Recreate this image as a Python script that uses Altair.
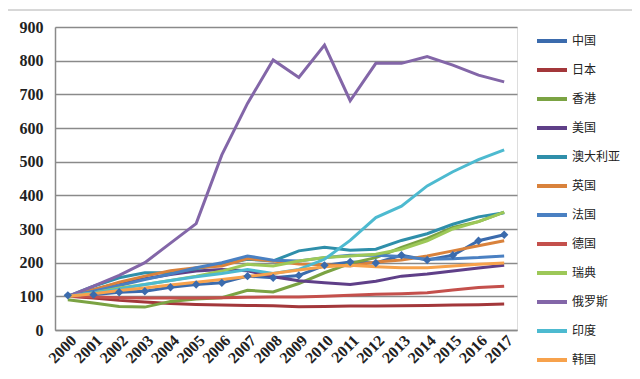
import altair as alt
import pandas as pd

years = [str(y) for y in range(2000, 2018)]

countries = ["中国", "日本", "香港", "美国", "澳大利亚", "英国",
             "法国", "德国", "瑞典", "俄罗斯", "印度", "韩国"]
colors = ["#3B6BAD", "#A3373A", "#7BA343", "#5F3F88", "#2F8FAA", "#D9823C",
          "#4A80C2", "#C4504C", "#9DC858", "#8366A8", "#4DBAD0", "#F7A24C"]

china = [103, 105, 112, 115, 127, 135, 140, 160, 155, 162, 192, 202, 199, 222, 208, 222, 265, 283]
japan = [100, 95, 88, 83, 79, 76, 74, 73, 72, 69, 70, 71, 71, 72, 73, 74, 75, 77]
hongkong = [90, 80, 70, 68, 85, 92, 96, 118, 113, 138, 170, 198, 215, 245, 272, 305, 322, 350]
usa = [100, 120, 140, 152, 165, 175, 180, 176, 158, 146, 140, 135, 145, 160, 166, 175, 184, 192]
australia = [100, 130, 155, 170, 170, 182, 195, 210, 205, 235, 246, 237, 240, 266, 286, 314, 336, 348]
uk = [100, 120, 142, 160, 176, 185, 190, 212, 205, 196, 194, 190, 202, 208, 220, 235, 250, 265]
france = [100, 115, 132, 150, 166, 185, 200, 220, 207, 205, 215, 222, 222, 218, 210, 212, 215, 220]
germany = [100, 98, 96, 95, 95, 95, 96, 97, 98, 98, 100, 103, 106, 108, 111, 119, 126, 130]
sweden = [100, 110, 125, 135, 147, 160, 175, 195, 190, 205, 215, 220, 225, 240, 265, 300, 322, 350]
russia = [100, 130, 162, 200, 258, 316, 520, 673, 802, 750, 846, 681, 792, 792, 812, 787, 757, 737]
india = [100, 110, 122, 135, 147, 158, 168, 180, 168, 180, 210, 266, 334, 368, 428, 470, 506, 535]
korea = [100, 108, 117, 125, 134, 142, 150, 159, 168, 178, 188, 192, 188, 185, 185, 190, 195, 199]

series = [china, japan, hongkong, usa, australia, uk, france, germany, sweden, russia, india, korea]
y_ticks = list(range(0, 1000, 100))

rows = []
for name, vals in zip(countries, series):
    for y, v in zip(years, vals):
        rows.append({"year": y, "value": v, "country": name})
df = pd.DataFrame(rows)

W, H = 462, 303

xenc = alt.X("year:O", sort=years,
             scale=alt.Scale(paddingOuter=0.5),
             axis=alt.Axis(title=None, labelAngle=-45, labelAlign="right",
                           labelBaseline="top", labelFont="Liberation Serif",
                           labelFontSize=16, labelFontWeight="bold",
                           labelColor="#222", ticks=False, domainColor="#8a8a8a",
                           domainWidth=1.5, labelPadding=2, grid=False,
                           labelOverlap=False))
yenc = alt.Y("value:Q", scale=alt.Scale(domain=[0, 900], nice=False),
             axis=alt.Axis(title=None, values=y_ticks, labelOverlap=False,
                           labelFont="Liberation Serif", labelFontSize=16,
                           labelFontWeight="bold", labelColor="#222",
                           ticks=False, labelPadding=12, domainColor="#8a8a8a",
                           domainWidth=1.5, gridColor="#8a8a8a", gridWidth=1.5))
color = alt.Color("country:N", sort=countries,
                  scale=alt.Scale(domain=countries, range=colors),
                  legend=alt.Legend(title=None, orient="none", legendX=480, legendY=-3,
                                    symbolType="stroke", symbolSize=900,
                                    symbolStrokeWidth=4, rowPadding=4,
                                    labelFont="Noto Sans CJK SC", labelFontSize=12,
                                    labelColor="#222", labelOffset=3))

lines = alt.Chart(df).mark_line(strokeWidth=3).encode(x=xenc, y=yenc, color=color)

points = alt.Chart(df[df["country"] == "中国"]).mark_point(
    shape="diamond", filled=True, size=70, opacity=1, color="#3B6BAD"
).encode(x=xenc, y=yenc)

border = alt.Chart(pd.DataFrame({"a": [0]})).mark_rect(
    fill=None, stroke="#b0b0b0", strokeWidth=1
).encode(x=alt.value(-50), x2=alt.value(579), y=alt.value(-17), y2=alt.value(347))

chart = alt.layer(border, lines, points).properties(
    width=W, height=H,
    autosize=alt.AutoSizeParams(type="none"),
    padding={"left": 47, "top": 19, "right": 115, "bottom": 40},
).configure_view(stroke=None).configure(background="white")

chart.save("out.html", embed_options={"renderer": "svg", "actions": False})
